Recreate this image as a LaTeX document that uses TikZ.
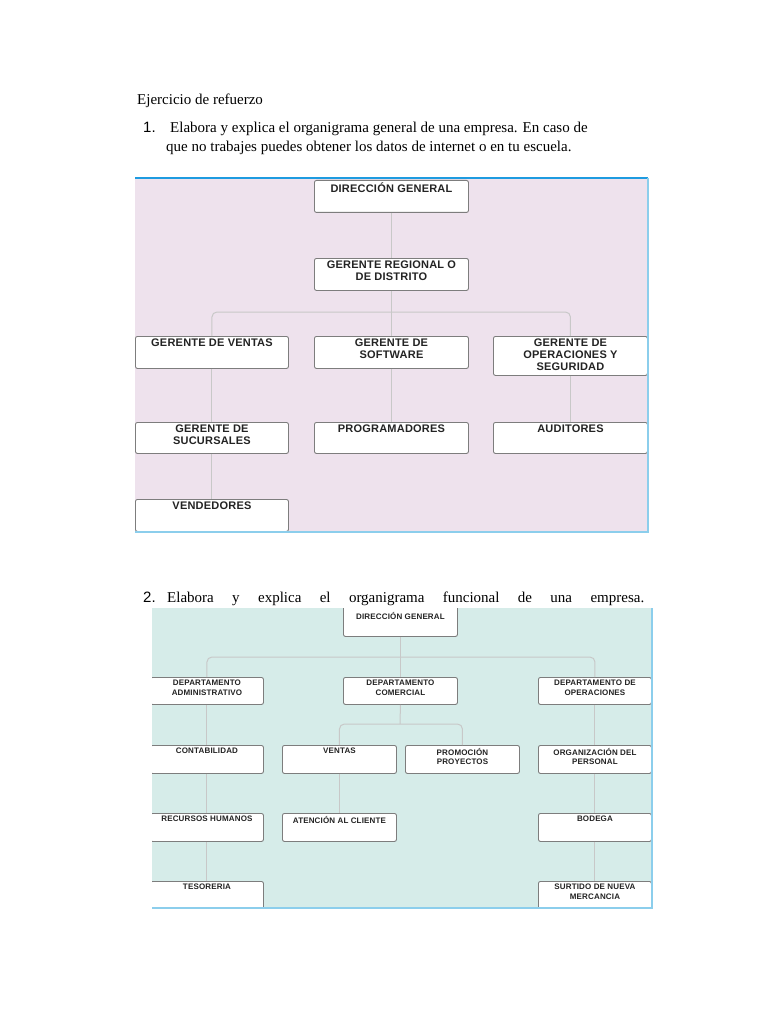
\documentclass[tikz,border=0pt]{standalone}
\usepackage{fontspec}
\setmainfont{Liberation Serif}
\newfontfamily\arialf{Liberation Sans}
\newfontfamily\boxf[LetterSpace=2]{Liberation Sans}
\definecolor{bgA}{RGB}{238,226,237}
\definecolor{bgB}{RGB}{214,236,233}
\definecolor{blueTop}{RGB}{30,155,224}
\definecolor{blueEdge}{RGB}{140,206,236}
\definecolor{lineG}{RGB}{200,200,200}
\definecolor{boxG}{RGB}{125,125,125}
\definecolor{txtG}{RGB}{35,35,35}
\tikzset{
  body/.style={inner sep=0pt, anchor=base west, font=\fontsize{15}{19}\selectfont},
  boxA/.style={draw=boxG, fill=white, rounded corners=2pt, line width=0.9pt, anchor=north west, inner sep=0pt},
  txtA/.style={anchor=north, inner sep=0pt, align=center, text=txtG, font={\boxf\bfseries\fontsize{11}{12}\selectfont}},
  txtB/.style={anchor=north, inner sep=0pt, align=center, text=txtG, font={\boxf\bfseries\fontsize{8}{9.5}\selectfont}},
  conn/.style={draw=lineG, line width=1pt},
}
\begin{document}
\begin{tikzpicture}[x=1pt,y=-1pt]
\useasboundingbox[fill=white] (0,0) rectangle (768,1024);

% ---------- texts ----------
\node[body] (t0) at (137,105) {Ejercicio de refuerzo};
\node[body, font=\arialf\fontsize{15}{19}\selectfont] (n1) at (143,133) {1.};
\node[body] (t1) at (170,133) {Elabora y explica el organigrama general de una empresa. En caso de};
\node[body] (t2) at (166,152) {que no trabajes puedes obtener los datos de internet o en tu escuela.};
\node[body, font=\arialf\fontsize{15}{19}\selectfont] (n2) at (143,602) {2.};
\node[body] (t3) at (167,602) {\makebox[477pt][s]{Elabora y explica el organigrama funcional de una empresa.}};

% ---------- chart 1 ----------
\fill[bgA] (135,178) rectangle (648,532);
\node[boxA, minimum width=154pt, minimum height=32pt] (dg1) at (314,180) {};
\node[boxA, minimum width=154pt, minimum height=32pt] (gr) at (314,258) {};
\node[boxA, minimum width=153pt, minimum height=32pt] (gv) at (135,336) {};
\node[boxA, minimum width=154pt, minimum height=32pt] (gs) at (314,336) {};
\node[boxA, minimum width=154pt, minimum height=39pt] (go) at (493,336) {};
\node[boxA, minimum width=153pt, minimum height=31pt] (gsu) at (135,422) {};
\node[boxA, minimum width=154pt, minimum height=31pt] (pr) at (314,422) {};
\node[boxA, minimum width=154pt, minimum height=31pt] (au) at (493,422) {};
\node[boxA, minimum width=153pt, minimum height=32pt] (ve) at (135,499) {};
\coordinate (b1) at (391,312);
\draw[conn] (dg1.south) -- (gr.north);
\draw[conn] (gr.south) -- (gs.north);
\draw[conn, rounded corners=5pt] (gv.north) |- (b1) -| (go.north);
\draw[conn] (gv.south) -- (gsu.north);
\draw[conn] (gs.south) -- (pr.north);
\draw[conn] (go.south) -- (au.north);
\draw[conn] (gsu.south) -- (ve.north);
\node[txtA] (dg1t) at ([yshift=-3pt]dg1.north) {DIRECCIÓN GENERAL};
\node[txtA] (grt) at ([yshift=-3pt]gr.north) {GERENTE REGIONAL O\\DE DISTRITO};
\node[txtA] (gvt) at ([yshift=-3pt]gv.north) {GERENTE DE VENTAS};
\node[txtA] (gst) at ([yshift=-3pt]gs.north) {GERENTE DE\\SOFTWARE};
\node[txtA] (got) at ([yshift=-3pt]go.north) {GERENTE DE\\OPERACIONES Y\\SEGURIDAD};
\node[txtA] (gsut) at ([yshift=-3pt]gsu.north) {GERENTE DE\\SUCURSALES};
\node[txtA] (prt) at ([yshift=-3pt]pr.north) {PROGRAMADORES};
\node[txtA] (aut) at ([yshift=-3pt]au.north) {AUDITORES};
\node[txtA] (vet) at ([yshift=-3pt]ve.north) {VENDEDORES};
\draw[blueTop, line width=2pt] (135,178) -- (648,178);
\draw[blueEdge, line width=1.5pt] (648,178) -- (648,532) -- (135,532);

% ---------- chart 2 ----------
\begin{scope}
\clip (152,608) rectangle (652,908);
\fill[bgB] (152,608) rectangle (652,908);
\node[boxA, minimum width=114pt, minimum height=32pt] (dg2) at (343,604) {};
\node[boxA, minimum width=113pt, minimum height=27pt] (da) at (150,677) {};
\node[boxA, minimum width=114pt, minimum height=27pt] (dc) at (343,677) {};
\node[boxA, minimum width=113pt, minimum height=27pt] (dop) at (538,677) {};
\node[boxA, minimum width=113pt, minimum height=28pt] (co) at (150,745) {};
\node[boxA, minimum width=114pt, minimum height=28pt] (ven) at (282,745) {};
\node[boxA, minimum width=114pt, minimum height=28pt] (pp) at (405,745) {};
\node[boxA, minimum width=113pt, minimum height=28pt] (op) at (538,745) {};
\node[boxA, minimum width=113pt, minimum height=28pt] (rh) at (150,813) {};
\node[boxA, minimum width=114pt, minimum height=28pt] (at) at (282,813) {};
\node[boxA, minimum width=113pt, minimum height=28pt] (bo) at (538,813) {};
\node[boxA, minimum width=113pt, minimum height=32pt] (te) at (150,881) {};
\node[boxA, minimum width=113pt, minimum height=32pt] (su) at (538,881) {};
\coordinate (b2) at (400,657);
\coordinate (b3) at (400,724);
\draw[conn] (dg2.south) -- (dc.north);
\draw[conn, rounded corners=5pt] (da.north) |- (b2) -| (dop.north);
\draw[conn] (dc.south) -- (b3);
\draw[conn, rounded corners=5pt] (ven.north) |- (b3) -| (pp.north);
\draw[conn] (da.south) -- (co.north);
\draw[conn] (co.south) -- (rh.north);
\draw[conn] (rh.south) -- (te.north);
\draw[conn] (ven.south) -- (at.north);
\draw[conn] (dop.south) -- (op.north);
\draw[conn] (op.south) -- (bo.north);
\draw[conn] (bo.south) -- (su.north);
\node[txtB] (dg2t) at ([yshift=-8pt]dg2.north) {DIRECCIÓN GENERAL};
\node[txtB] (dat) at ([yshift=-3pt]da.north) {DEPARTAMENTO\\ADMINISTRATIVO};
\node[txtB] (dct) at ([yshift=-3pt]dc.north) {DEPARTAMENTO\\COMERCIAL};
\node[txtB] (dopt) at ([yshift=-3pt]dop.north) {DEPARTAMENTO DE\\OPERACIONES};
\node[txtB] (cot) at ([yshift=-3pt]co.north) {CONTABILIDAD};
\node[txtB] (vent) at ([yshift=-3pt]ven.north) {VENTAS};
\node[txtB] (ppt) at ([yshift=-3pt]pp.north) {PROMOCIÓN\\PROYECTOS};
\node[txtB] (opt) at ([yshift=-3pt]op.north) {ORGANIZACIÓN DEL\\PERSONAL};
\node[txtB] (rht) at ([yshift=-3pt]rh.north) {RECURSOS HUMANOS};
\node[txtB] (att) at ([yshift=-3pt]at.north) {ATENCIÓN AL CLIENTE};
\node[txtB] (bot) at ([yshift=-3pt]bo.north) {BODEGA};
\node[txtB] (tet) at ([yshift=-3pt]te.north) {TESORERIA};
\node[txtB] (sut) at ([yshift=-3pt]su.north) {SURTIDO DE NUEVA\\MERCANCIA};
\end{scope}
\draw[blueEdge, line width=1.5pt] (652,608) -- (652,908) -- (152,908);
\end{tikzpicture}
\end{document}
